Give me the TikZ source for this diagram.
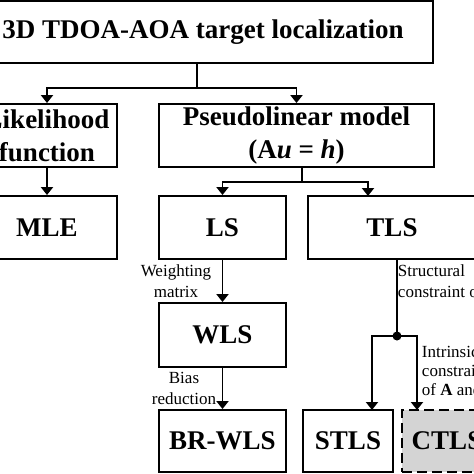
\documentclass[tikz,border=0pt]{standalone}
\usepackage{fontspec}
\setmainfont{Liberation Serif}
\usetikzlibrary{arrows.meta,calc}
\begin{document}
\begin{tikzpicture}[x=1pt,y=-1pt,line width=1.9pt,
  box/.style={draw,line width=1.9pt,inner sep=0pt,align=center,
    font=\fontsize{27}{33}\selectfont\bfseries},
  lab/.style={inner sep=0pt,font=\fontsize{17}{21}\selectfont},
  arr/.style={-{Triangle[width=12pt,length=8pt]}},
  dashbox/.style={box,dash pattern=on 10pt off 5pt,fill=black!17}]
\useasboundingbox (0,0) rectangle (474,474);
\clip (0,0) rectangle (474,474);
% boxes
\node[box,minimum width=460,minimum height=62] (top) at (203,32) {3D TDOA-AOA target localization};
\node[box,minimum width=140,minimum height=63] (lik) at (47,135.5) {Likelihood\\function};
\node[box,minimum width=275,minimum height=63] (pseudo) at (296.5,135.5) {Pseudolinear model\\(A\textit{u} = \textit{h})};
\node[box,minimum width=140,minimum height=63] (mle) at (47,227.5) {MLE};
\node[box,minimum width=127,minimum height=63] (ls) at (222.5,227.5) {LS};
\node[box,minimum width=168,minimum height=63] (tls) at (392,227.5) {TLS};
\node[box,minimum width=127,minimum height=64] (wls) at (222.5,335) {WLS};
\node[box,minimum width=127,minimum height=62] (brwls) at (222.5,441) {BR-WLS};
\node[box,minimum width=90,minimum height=62] (stls) at (348,441) {STLS};
\node[dashbox,minimum width=90,minimum height=62] (ctls) at (447,441) {CTLS};
% junctions
\coordinate (j1) at (197,88);
\coordinate (j2) at (302,182);
\coordinate (tlsin) at (368,196);
\coordinate (dot) at (397,336);
\coordinate (stlsin) at (372,410);
\coordinate (ctlsin) at (417,410);
% connectors
\draw (top.south -| j1) -- (j1);
\draw[arr] (j1) -| (lik.north);
\draw[arr] (j1) -| (pseudo.north);
\draw[arr] (lik) -- (mle);
\draw (pseudo.south -| j2) -- (j2);
\draw[arr] (j2) -| (ls.north);
\draw[arr] (j2) -| (tlsin);
\draw[arr] (ls) -- (wls);
\draw[arr] (wls) -- (brwls);
\draw (tls.south -| dot) -- (dot);
\draw[arr] (dot) -| (stlsin);
\draw[arr] (dot) -| (ctlsin);
\fill (dot) circle (4.5);
% labels
\node[lab,align=center] (wm) at (176,281.5) {Weighting\\matrix};
\node[lab,align=center] (br) at (184,388.5) {Bias\\reduction};
\node[lab,align=left,anchor=west] (sc) at (397,281.5) {Structural\\constraint on};
\node[lab,align=left,anchor=west,font=\fontsize{17}{19}\selectfont] (ic) at (421,370.5) {Intrinsic\\constraint\\of \textbf{A} and};
\end{tikzpicture}
\end{document}
